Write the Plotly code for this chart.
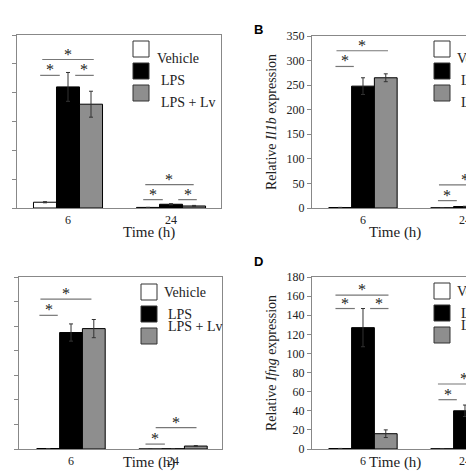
import plotly.graph_objects as go

W = H = 474
groups = ["Vehicle", "LPS", "LPS + Lv"]
colors = ["white", "black", "#8e8e8e"]
times = [0, 1]
time_labels = ["6", "24"]

# values per panel: [group][time]
a_vals = [[0.2, 0.02], [4.2, 0.13], [3.6, 0.07]]
a_err = [[0.02, 0.0], [0.5, 0.02], [0.45, 0.02]]
b_vals = [[1, 0.5], [248, 3], [265, 5]]
b_err = [[0.3, 0.1], [17, 0.5], [8, 1]]
c_vals = [[0.02, 0.0], [4.74, 0.01], [4.9, 0.12]]
c_err = [[0.0, 0.0], [0.35, 0.0], [0.37, 0.02]]
d_vals = [[0.5, 0.3], [127, 40], [16, 18]]
d_err = [[0.1, 0.1], [20, 6], [4, 3]]

# significance brackets (x0, x1, y)
a_sig = [(-0.25, 0.25, 5.15), (-0.27, -0.08, 4.6), (0.07, 0.25, 4.6),
         (0.75, 1.22, 0.81), (0.73, 0.92, 0.29), (1.07, 1.25, 0.29)]
b_sig = [(-0.26, 0.245, 320), (-0.27, -0.09, 288),
         (0.745, 1.25, 47), (0.735, 0.92, 15), (1.07, 1.25, 15)]
c_sig = [(-0.3, 0.2, 6.1), (-0.31, -0.13, 5.44),
         (0.83, 1.23, 0.87), (0.73, 0.92, 0.2)]
d_sig = [(-0.27, 0.25, 161), (-0.27, -0.08, 147), (0.07, 0.25, 147),
         (0.735, 1.25, 68), (0.74, 0.92, 51.6), (1.07, 1.25, 51.6)]

panels = [
    # vals, err, sig, xdom(px), ydom(px top,bottom), xrange, yrange, dtick, ticklabels, ytitle
    (a_vals, a_err, a_sig, (9, 213), (27, 200), (-0.495, 1.485), (0, 6), 1, False, None),
    (b_vals, b_err, b_sig, (304, 474), (28, 200), (-0.5, 1.167), (0, 350), 50, True,
     "Relative <i>Il1b</i> expression"),
    (c_vals, c_err, c_sig, (11, 214), (269, 441), (-0.51, 1.48), (0, 7), 1, False, None),
    (d_vals, d_err, d_sig, (304, 474), (269, 441), (-0.5, 1.167), (0, 180), 20, True,
     "Relative <i>Ifng</i> expression"),
]

FONT = "Liberation Serif, Times New Roman, DejaVu Serif, serif"
INK = "#222222"
fig = go.Figure()
shapes, annos = [], []
for i, (vals, err, sig, xd, yd, xr, yr, dt, showlab, ytitle) in enumerate(panels):
    n = "" if i == 0 else str(i + 1)
    xa, ya = "x" + n, "y" + n
    for g in range(3):
        fig.add_trace(go.Bar(
            x=times, y=vals[g], name=groups[g], xaxis=xa, yaxis=ya,
            marker=dict(color=colors[g], line=dict(color="black", width=1)),
            error_y=dict(type="data", array=err[g], color="#333", thickness=1, width=2),
            showlegend=False, offsetgroup=str(g)))
    common = dict(showline=True, linecolor="#888", linewidth=1.2, mirror=True,
                  showgrid=False, zeroline=False)
    fig.layout["xaxis" + n] = dict(
        domain=[xd[0] / W, xd[1] / W], range=list(xr), anchor=ya,
        tickvals=times, ticktext=time_labels, ticks="",
        tickfont=dict(family=FONT, size=12, color=INK), **common)
    fig.layout["yaxis" + n] = dict(
        domain=[1 - yd[1] / H, 1 - yd[0] / H], range=list(yr), anchor=xa, dtick=dt,
        ticks="outside", ticklen=4, tickcolor="#888", showticklabels=showlab,
        tickfont=dict(family=FONT, size=12, color=INK),
        title=dict(text=ytitle, font=dict(family=FONT, size=14, color=INK), standoff=6) if ytitle else None,
        **common)
    for x0, x1, y in sig:
        shapes.append(dict(type="line", xref=xa, yref=ya, x0=x0, x1=x1, y0=y, y1=y,
                           line=dict(color="#777", width=1.2)))
        annos.append(dict(xref=xa, yref=ya, x=(x0 + x1) / 2, y=y, text="*", showarrow=False,
                          yanchor="bottom", yshift=-5, font=dict(family=FONT, size=16, color=INK)))
    annos.append(dict(xref="paper", yref="paper", x=(113 if i % 2 == 0 else 415) / W,
                      y=1 - (yd[1] + 24) / H, text="Time (h)", showarrow=False,
                      font=dict(family=FONT, size=15, color=INK)))

# manual legends: (box left px, first box top px, text left px)
leg_pos = [(125, 33, 147), (426, 33, 447), (133, 276, 154), (426, 275, 447)]
for bx, by, tx in leg_pos:
    for g in range(3):
        top = by + g * 22
        shapes.append(dict(type="rect", xref="paper", yref="paper",
                           x0=bx / W, x1=(bx + 16) / W, y0=1 - top / H, y1=1 - (top + 16) / H,
                           fillcolor=colors[g], line=dict(color="#333", width=1)))
        annos.append(dict(xref="paper", yref="paper", x=(tx + (0 if g == 0 else 4)) / W,
                          y=1 - (top + 8) / H, text=groups[g], showarrow=False,
                          xanchor="left", font=dict(family=FONT, size=14, color=INK)))

for lab, y in [("B", 12), ("D", 253)]:
    annos.append(dict(xref="paper", yref="paper", x=250 / W, y=1 - y / H, text="<b>" + lab + "</b>",
                      showarrow=False, font=dict(family="Liberation Sans, Arial", size=13, color="black")))

fig.update_layout(template="none", width=W, height=H, margin=dict(l=0, r=0, t=0, b=0),
                  paper_bgcolor="white", plot_bgcolor="white",
                  barmode="group", bargap=0.33, bargroupgap=0,
                  shapes=shapes, annotations=annos)
fig.write_html("out.html")
